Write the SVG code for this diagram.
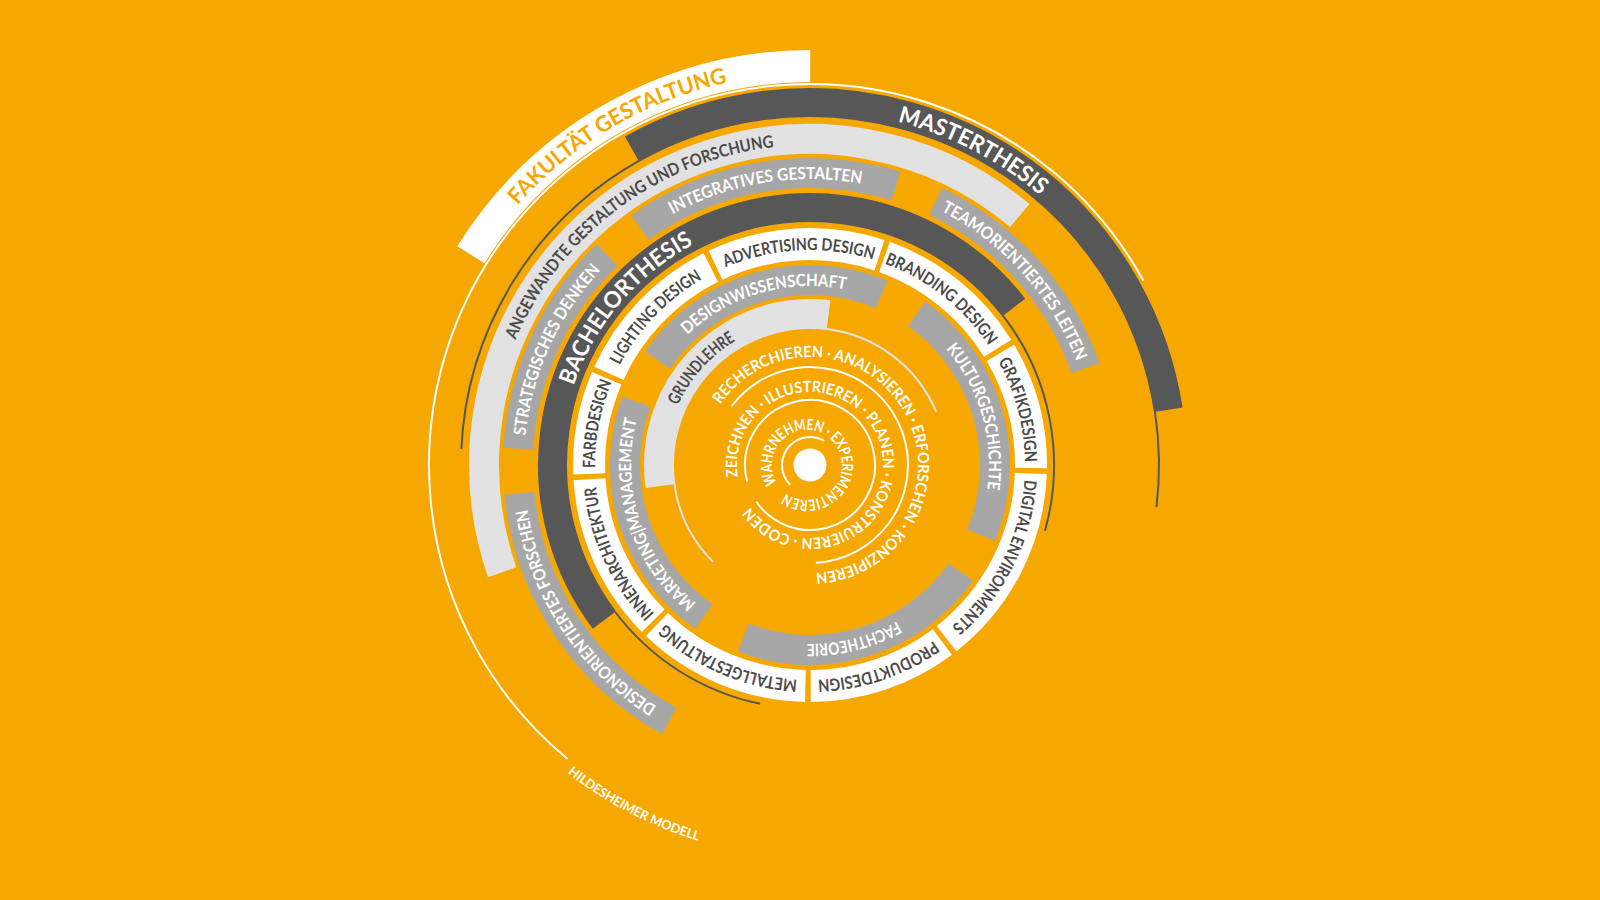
<svg xmlns="http://www.w3.org/2000/svg" xmlns:xlink="http://www.w3.org/1999/xlink" width="1600" height="900" viewBox="0 0 1600 900">
<style>
.b{fill:none}
.t{font-family:Lato,"Open Sans","Liberation Sans",sans-serif;font-weight:700;text-anchor:middle}
.s17{font-size:17px}
.s22{font-size:22px}
.s23{font-size:23px}
.s15{font-size:15.5px}
.s13{font-size:13px}
.dk{fill:#4b4b4b}
.wt{fill:#ffffff}
.or{fill:#F6A800}
.cW{stroke:#ffffff}
.cD{stroke:#575757}
.cM{stroke:#a7a7a7}
.cL{stroke:#e2e2e2}
</style>
<defs>
<path id="c391" d="M391.1,0A391.1,391.1 0 1 1 -391.1,0A391.1,391.1 0 1 1 391.1,0"/>
<path id="c354" d="M354.3,0A354.3,354.3 0 1 1 -354.3,0A354.3,354.3 0 1 1 354.3,0"/>
<path id="c320" d="M319.9,0A319.9,319.9 0 1 1 -319.9,0A319.9,319.9 0 1 1 319.9,0"/>
<path id="c286" d="M285.9,0A285.9,285.9 0 1 1 -285.9,0A285.9,285.9 0 1 1 285.9,0"/>
<path id="c249" d="M249.3,0A249.3,249.3 0 1 1 -249.3,0A249.3,249.3 0 1 1 249.3,0"/>
<path id="c215" d="M214.9,0A214.9,214.9 0 1 1 -214.9,0A214.9,214.9 0 1 1 214.9,0"/>
<path id="c179" d="M178.9,0A178.9,178.9 0 1 1 -178.9,0A178.9,178.9 0 1 1 178.9,0"/>
<path id="c145" d="M144.9,0A144.9,144.9 0 1 1 -144.9,0A144.9,144.9 0 1 1 144.9,0"/>
<path id="c108" d="M108,0A108,108 0 1 1 -108,0A108,108 0 1 1 108,0"/>
<path id="c73" d="M73,0A73,73 0 1 1 -73,0A73,73 0 1 1 73,0"/>
<path id="c35" d="M35,0A35,35 0 1 1 -35,0A35,35 0 1 1 35,0"/>
<path id="a392" d="M392,0A392,392 0 1 0 -392,0A392,392 0 1 0 392,0"/>
</defs>
<rect width="1600" height="900" fill="#F6A800"/>

<g id="connectors" class="b">
<circle class="cW" cx="810" cy="465" r="381" stroke-width="2" stroke-dasharray="1339.9 5000" transform="rotate(129.5 810 465)"/>
<circle class="cD" cx="810" cy="465" r="349" stroke-width="2" stroke-dasharray="353.3 5000" transform="rotate(182.6 810 465)"/>
<circle class="cD" cx="810" cy="465" r="349" stroke-width="2" stroke-dasharray="95.6 5000" transform="rotate(351.2 810 465)"/>
<circle class="cD" cx="810" cy="465" r="244" stroke-width="2" stroke-dasharray="227.4 5000" transform="rotate(322.2 810 465)"/>
<circle class="cD" cx="810" cy="465" r="244" stroke-width="2" stroke-dasharray="175.5 5000" transform="rotate(101.8 810 465)"/>
<circle class="cL" cx="810" cy="465" r="137" stroke-width="2" stroke-dasharray="143.5 5000" transform="rotate(277 810 465)"/>
<circle class="cL" cx="810" cy="465" r="137" stroke-width="2" stroke-dasharray="88.5 5000" transform="rotate(135 810 465)"/>
<circle class="cW" cx="810" cy="465" r="98" stroke-width="2" stroke-dasharray="392 5000" transform="rotate(-143 810 465)"/>
<circle class="cW" cx="810" cy="465" r="65" stroke-width="2" stroke-dasharray="385.7 5000" transform="rotate(165 810 465)"/>
<circle class="cW" cx="810" cy="465" r="28" stroke-width="2" stroke-dasharray="80.6 5000" transform="rotate(135 810 465)"/>
</g>

<g id="fakultaet">
<circle class="b cW" cx="810" cy="465" r="399" stroke-width="32" stroke-dasharray="405.3 5000" transform="rotate(-148.2 810 465)"/>
<g transform="translate(810 465) rotate(59.7)"><text class="t s22 or"><textPath href="#c391" startOffset="50%" textLength="247" lengthAdjust="spacingAndGlyphs">FAKULTÄT GESTALTUNG</textPath></text></g>
</g>

<g id="masterthesis">
<circle class="b cD" cx="810" cy="465" r="362.5" stroke-width="29" stroke-dasharray="699.7 5000" transform="rotate(-119.4 810 465)"/>
<g transform="translate(810 465) rotate(117.4)"><text class="t s23 wt"><textPath href="#c354" startOffset="50%" textLength="162" lengthAdjust="spacingAndGlyphs">MASTERTHESIS</textPath></text></g>
</g>

<g id="angewandte">
<circle class="b cL" cx="810" cy="465" r="326" stroke-width="30" stroke-dasharray="848.9 5000" transform="rotate(160.8 810 465)"/>
<g transform="translate(810 465) rotate(53.25)"><text class="t s17 dk"><textPath href="#c320" startOffset="50%" textLength="338" lengthAdjust="spacingAndGlyphs">ANGEWANDTE GESTALTUNG UND FORSCHUNG</textPath></text></g>
</g>

<g id="strategisches">
<circle class="b cM" cx="810" cy="465" r="292" stroke-width="30" stroke-dasharray="218.1 5000" transform="rotate(183.2 810 465)"/>
<g transform="translate(810 465) rotate(24.4)"><text class="t s17 wt"><textPath href="#c286" startOffset="50%" textLength="185" lengthAdjust="spacingAndGlyphs">STRATEGISCHES DENKEN</textPath></text></g>
</g>
<g id="integratives">
<circle class="b cM" cx="810" cy="465" r="292" stroke-width="30" stroke-dasharray="268.6 5000" transform="rotate(234.4 810 465)"/>
<g transform="translate(810 465) rotate(80.8)"><text class="t s17 wt"><textPath href="#c286" startOffset="50%" textLength="195" lengthAdjust="spacingAndGlyphs">INTEGRATIVES GESTALTEN</textPath></text></g>
</g>
<g id="teamorientiertes">
<circle class="b cM" cx="810" cy="465" r="292" stroke-width="30" stroke-dasharray="229.8 5000" transform="rotate(295.5 810 465)"/>
<g transform="translate(810 465) rotate(138)"><text class="t s17 wt"><textPath href="#c286" startOffset="50%" textLength="207" lengthAdjust="spacingAndGlyphs">TEAMORIENTIERTES LEITEN</textPath></text></g>
</g>
<g id="designorientiertes">
<circle class="b cM" cx="810" cy="465" r="292" stroke-width="30" stroke-dasharray="283.4 5000" transform="rotate(118.8 810 465)"/>
<g transform="translate(810 465) rotate(-33.25)"><text class="t s17 wt"><textPath href="#c286" startOffset="50%" textLength="243" lengthAdjust="spacingAndGlyphs">DESIGNORIENTIERTES FORSCHEN</textPath></text></g>
</g>

<g id="bachelorthesis">
<circle class="b cD" cx="810" cy="465" r="257.5" stroke-width="29" stroke-dasharray="805.4 5000" transform="rotate(143 810 465)"/>
<g transform="translate(810 465) rotate(40.35)"><text class="t s23 wt"><textPath href="#c249" startOffset="50%" textLength="190" lengthAdjust="spacingAndGlyphs">BACHELORTHESIS</textPath></text></g>
</g>

<g id="innenarchitektur">
<circle class="b cW" cx="810" cy="465" r="221" stroke-width="32" stroke-dasharray="158.5 5000" transform="rotate(135.2 810 465)"/>
<g transform="translate(810 465) rotate(-24.75)"><text class="t s17 dk"><textPath href="#c215" startOffset="50%" textLength="142" lengthAdjust="spacingAndGlyphs">INNENARCHITEKTUR</textPath></text></g>
</g>
<g id="farbdesign">
<circle class="b cW" cx="810" cy="465" r="221" stroke-width="32" stroke-dasharray="98 5000" transform="rotate(177.7 810 465)"/>
<g transform="translate(810 465) rotate(10.95)"><text class="t s17 dk"><textPath href="#c215" startOffset="50%" textLength="88" lengthAdjust="spacingAndGlyphs">FARBDESIGN</textPath></text></g>
</g>
<g id="lightingdesign">
<circle class="b cW" cx="810" cy="465" r="221" stroke-width="32" stroke-dasharray="149.7 5000" transform="rotate(204.5 810 465)"/>
<g transform="translate(810 465) rotate(43.75)"><text class="t s17 dk"><textPath href="#c215" startOffset="50%" textLength="121" lengthAdjust="spacingAndGlyphs">LIGHTING DESIGN</textPath></text></g>
</g>
<g id="advertisingdesign">
<circle class="b cW" cx="810" cy="465" r="221" stroke-width="32" stroke-dasharray="168.2 5000" transform="rotate(244.7 810 465)"/>
<g transform="translate(810 465) rotate(86.95)"><text class="t s17 dk"><textPath href="#c215" startOffset="50%" textLength="151" lengthAdjust="spacingAndGlyphs">ADVERTISING DESIGN</textPath></text></g>
</g>
<g id="brandingdesign">
<circle class="b cW" cx="810" cy="465" r="221" stroke-width="32" stroke-dasharray="148.1 5000" transform="rotate(289.7 810 465)"/>
<g transform="translate(810 465) rotate(128.3)"><text class="t s17 dk"><textPath href="#c215" startOffset="50%" textLength="135" lengthAdjust="spacingAndGlyphs">BRANDING DESIGN</textPath></text></g>
</g>
<g id="grafikdesign">
<circle class="b cW" cx="810" cy="465" r="221" stroke-width="32" stroke-dasharray="120.7 5000" transform="rotate(329.5 810 465)"/>
<g transform="translate(810 465) rotate(165.15)"><text class="t s17 dk"><textPath href="#c215" startOffset="50%" textLength="106" lengthAdjust="spacingAndGlyphs">GRAFIKDESIGN</textPath></text></g>
</g>
<g id="digitalenvironments">
<circle class="b cW" cx="810" cy="465" r="221" stroke-width="32" stroke-dasharray="191.3 5000" transform="rotate(2.2 810 465)"/>
<g transform="translate(810 465) rotate(-153.65)"><text class="t s17 dk"><textPath href="#c215" startOffset="50%" textLength="168" lengthAdjust="spacingAndGlyphs">DIGITAL ENVIRONMENTS</textPath></text></g>
</g>
<g id="produktdesign">
<circle class="b cW" cx="810" cy="465" r="221" stroke-width="32" stroke-dasharray="141.2 5000" transform="rotate(53.2 810 465)"/>
<g transform="translate(810 465) rotate(-108.6)"><text class="t s17 dk"><textPath href="#c215" startOffset="50%" textLength="124" lengthAdjust="spacingAndGlyphs">PRODUKTDESIGN</textPath></text></g>
</g>
<g id="metallgestaltung">
<circle class="b cW" cx="810" cy="465" r="221" stroke-width="32" stroke-dasharray="164.3 5000" transform="rotate(91.2 810 465)"/>
<g transform="translate(810 465) rotate(-67.15)"><text class="t s17 dk"><textPath href="#c215" startOffset="50%" textLength="146" lengthAdjust="spacingAndGlyphs">METALLGESTALTUNG</textPath></text></g>
</g>

<g id="designwissenschaft">
<circle class="b cM" cx="810" cy="465" r="185" stroke-width="30" stroke-dasharray="252.5 5000" transform="rotate(214.5 810 465)"/>
<g transform="translate(810 465) rotate(74.05)"><text class="t s17 wt"><textPath href="#c179" startOffset="50%" textLength="171" lengthAdjust="spacingAndGlyphs">DESIGNWISSENSCHAFT</textPath></text></g>
</g>
<g id="kulturgeschichte">
<circle class="b cM" cx="810" cy="465" r="185" stroke-width="30" stroke-dasharray="248.9 5000" transform="rotate(305.2 810 465)"/>
<g transform="translate(810 465) rotate(163.65)"><text class="t s17 wt"><textPath href="#c179" startOffset="50%" textLength="151" lengthAdjust="spacingAndGlyphs">KULTURGESCHICHTE</textPath></text></g>
</g>
<g id="fachtheorie">
<circle class="b cM" cx="810" cy="465" r="185" stroke-width="30" stroke-dasharray="244.4 5000" transform="rotate(35.4 810 465)"/>
<g transform="translate(810 465) rotate(-104.05)"><text class="t s17 wt"><textPath href="#c179" startOffset="50%" textLength="94" lengthAdjust="spacingAndGlyphs">FACHTHEORIE</textPath></text></g>
</g>
<g id="marketing">
<circle class="b cM" cx="810" cy="465" r="185" stroke-width="30" stroke-dasharray="242.2 5000" transform="rotate(125 810 465)"/>
<g transform="translate(810 465) rotate(-17.9)"><text class="t s17 wt"><textPath href="#c179" startOffset="50%" textLength="204" lengthAdjust="spacingAndGlyphs">MARKETING|MANAGEMENT</textPath></text></g>
</g>

<g id="grundlehre">
<circle class="b cL" cx="810" cy="465" r="151" stroke-width="30" stroke-dasharray="276.7 5000" transform="rotate(172 810 465)"/>
<g transform="translate(810 465) rotate(41.65)"><text class="t s17 dk"><textPath href="#c145" startOffset="50%" textLength="88" lengthAdjust="spacingAndGlyphs">GRUNDLEHRE</textPath></text></g>
</g>

<g id="kern">
<circle cx="810" cy="465" r="16.5" fill="#ffffff"/>
<g transform="translate(810 465) rotate(150.5)"><text class="t s15 wt"><textPath href="#c108" startOffset="50%" textLength="439" lengthAdjust="spacingAndGlyphs">RECHERCHIEREN · ANALYSIEREN · ERFORSCHEN · KONZIPIEREN</textPath></text></g>
<g transform="translate(810 465) rotate(157.8)"><text class="t s15 wt"><textPath href="#c73" startOffset="50%" textLength="425" lengthAdjust="spacingAndGlyphs">ZEICHNEN · ILLUSTRIEREN · PLANEN · KONSTRUIEREN · CODEN</textPath></text></g>
<g transform="translate(807 465) rotate(138)"><text class="t s15 wt"><textPath href="#c35" startOffset="50%" textLength="206" lengthAdjust="spacingAndGlyphs">WAHRNEHMEN · EXPERIMENTIEREN</textPath></text></g>
</g>

<g id="hildesheimer">
<g transform="translate(810 465) rotate(-62.6)"><text class="t s13 wt"><textPath href="#a392" startOffset="50%" textLength="148" lengthAdjust="spacingAndGlyphs">HILDESHEIMER MODELL</textPath></text></g>
</g>
</svg>
